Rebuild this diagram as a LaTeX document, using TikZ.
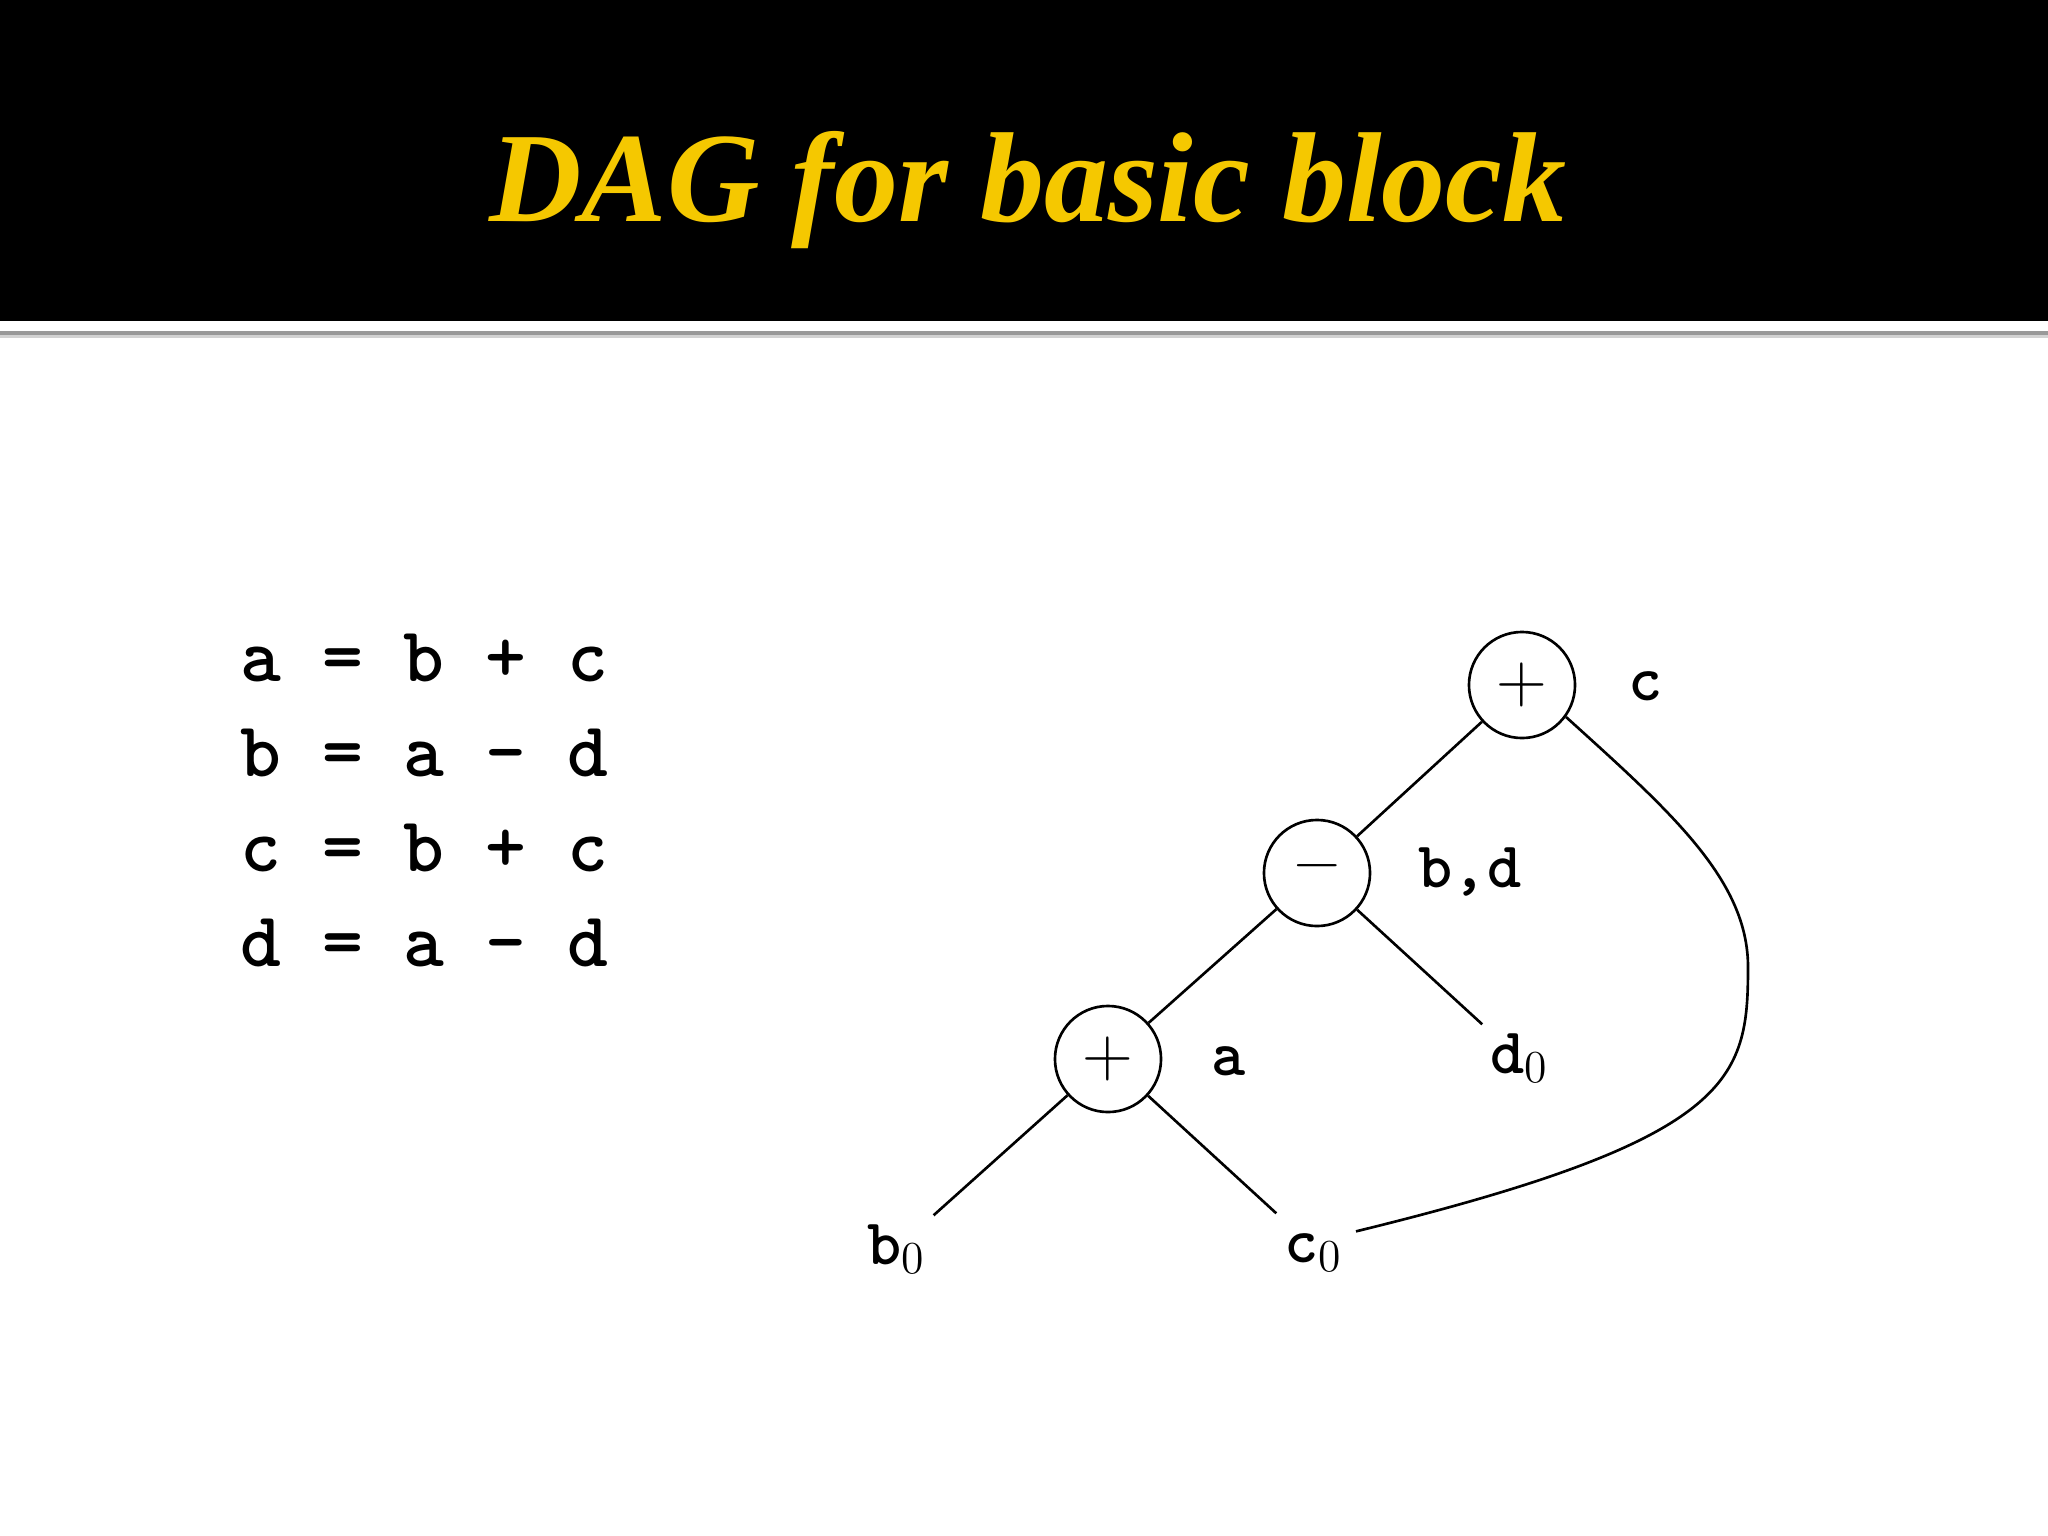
\documentclass[tikz,border=0pt]{standalone}
\usepackage{fontspec}
\newfontfamily\titlefont{Liberation Serif}
\definecolor{titlegold}{RGB}{245,200,0}
\newcommand\dcodefont{\ttfamily\bfseries\fontsize{22.1}{27}\selectfont}
\newcommand\dlabfont{\ttfamily\bfseries\fontsize{18.5}{22}\selectfont}
\newcommand\dopfont{\rmfamily\fontsize{20}{24}\selectfont}
\newcommand\subz{\raisebox{-0.09cm}{\rmfamily\mdseries\fontsize{13}{15}\selectfont 0}}
\tikzset{
  opnode/.style={circle, draw, line width=0.75pt, minimum size=1.06cm, inner sep=0pt, font=\dopfont},
  leaf/.style={text height=0.34cm, text depth=0.04cm, inner sep=0.14cm, font=\dlabfont},
  lbl/.style={anchor=base west, inner sep=0pt, font=\dlabfont},
  codeline/.style={anchor=base west, inner sep=0pt, font=\dcodefont},
  edge/.style={line width=0.75pt},
}
\begin{document}
\begin{tikzpicture}[x=0.01cm,y=-0.01cm]
\useasboundingbox (0,0) rectangle (2048,1536);
\fill[white] (0,0) rectangle (2048,1536);
% header
\fill[black] (0,0) rectangle (2048,321);
\fill[gray!80] (0,331) rectangle (2048,335);
\fill[gray!35] (0,335) rectangle (2048,338);
\node[anchor=base, inner sep=0pt, text=titlegold, font=\titlefont\bfseries\itshape\fontsize{36.4}{40}\selectfont] (title) at (1028,221) {DAG for basic block};
% code
\node[codeline] (s1) at (240,681) {a = b + c};
\node[codeline] (s2) at (240,776) {b = a - d};
\node[codeline] (s3) at (240,871) {c = b + c};
\node[codeline] (s4) at (240,966) {d = a - d};
% DAG nodes
\node[opnode] (p3) at (1522,685) {+};
\node[opnode] (m2) at (1317,873) {\fontsize{18}{22}\selectfont −};
\node[opnode] (p1) at (1108,1059) {+};
\node[lbl] (lc) at (1628,700) {c};
\node[lbl] (lbd) at (1418,887) {b,d};
\node[lbl] (la) at (1211,1075) {a};
\node[leaf] (d0) at (1519,1058) {d\subz};
\node[leaf] (c0) at (1313,1247) {c\subz};
\node[leaf] (b0) at (896,1249) {b\subz};
\coordinate (bulge) at (1748,967);
% edges
\draw[edge] (p3) -- (m2);
\draw[edge] (m2) -- (p1);
\draw[edge] (m2) -- (d0);
\draw[edge] (p1) -- (b0);
\draw[edge] (p1) -- (c0);
\draw[edge] (p3.-36) .. controls (1671,812) and (1748,880) .. (bulge)
  .. controls (1748,1080) and (1734,1139) .. (c0.20);
\end{tikzpicture}
\end{document}
